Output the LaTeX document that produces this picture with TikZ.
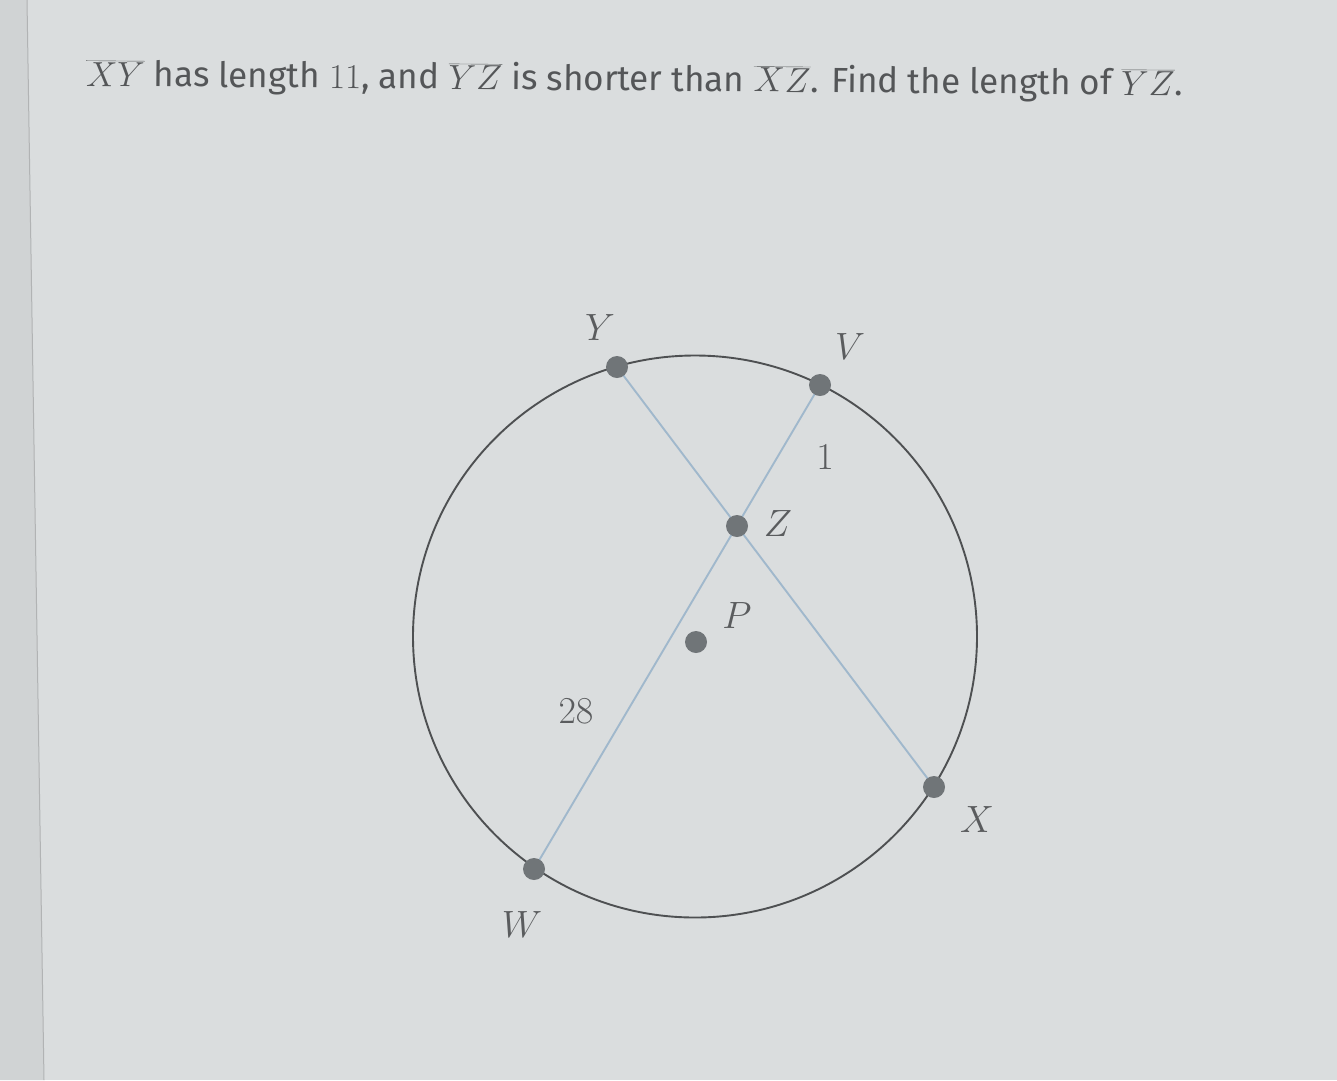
\RequirePackage{fix-cm}
\documentclass[tikz,border=0pt]{standalone}
\usepackage{fontspec}
\setmainfont{Fira Sans}
\begin{document}
\begin{tikzpicture}[x=1pt,y=-1pt,
  every node/.style={inner sep=0pt,outer sep=0pt},
  lbl/.style={text=labelgray,font=\fontsize{38}{44}\selectfont},
  dot/.style={circle,fill=dotgray,minimum size=22pt,inner sep=0pt},
  chord/.style={draw=chordblue,line width=1.9pt},
  rim/.style={draw=rimgray,line width=1.9pt}]
\definecolor{bg}{RGB}{218,221,222}
\definecolor{bgleft}{RGB}{208,211,212}
\definecolor{labelgray}{RGB}{90,92,94}
\definecolor{dotgray}{RGB}{112,117,120}
\definecolor{chordblue}{RGB}{160,184,204}
\definecolor{rimgray}{RGB}{78,80,82}
\definecolor{txtgray}{RGB}{84,86,88}
\useasboundingbox (0,0) rectangle (1337,1080);
\fill[bg] (0,0) rectangle (1337,1080);
\fill[bgleft] (0,0) -- (27,0) -- (44,1080) -- (0,1080) -- cycle;
\draw[color=bgleft!85!black,line width=1pt] (27,0) -- (44,1080);
% title
\node[anchor=base west,rotate=-0.5,text=txtgray,font=\fontsize{35}{42}\selectfont] (title) at (86,86)
  {$\overline{XY}$ has length $11$, and $\overline{YZ}$ is shorter than $\overline{XZ}$. Find the length of $\overline{YZ}$.};
% circle
\draw[rim] (695,636.5) ellipse [x radius=282, y radius=281];
% points
\coordinate (Y) at (617,367);
\coordinate (V) at (820,385);
\coordinate (Z) at (737,526);
\coordinate (X) at (934,787);
\coordinate (W) at (534,869);
\coordinate (P) at (696,642);
\draw[chord] (Y) -- (X);
\draw[chord] (V) -- (W);
\foreach \p in {Y,V,Z,X,W,P} \node[dot] (d\p) at (\p) {};
% labels
\node[lbl] (lY) at (600,328) {$Y$};
\node[lbl] (lV) at (850,347) {$V$};
\node[lbl] (l1) at (825,457) {$1$};
\node[lbl] (lZ) at (778,524) {$Z$};
\node[lbl] (lP) at (737,616) {$P$};
\node[lbl] (l28) at (576,711) {$28$};
\node[lbl] (lX) at (977,819) {$X$};
\node[lbl] (lW) at (522,924) {$W$};
\end{tikzpicture}
\end{document}
